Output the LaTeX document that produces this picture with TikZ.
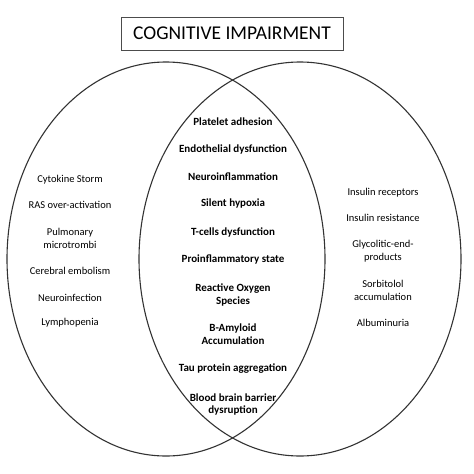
\documentclass[tikz,border=0pt]{standalone}
\usepackage{fontspec}
\setmainfont{Carlito}
\begin{document}
\begin{tikzpicture}[x=1pt,y=-1pt,
  venn/.style={draw=black!80,line width=1.1pt},
  sidetxt/.style={font=\fontsize{10.5}{13}\selectfont,align=center,text=black,inner sep=0pt},
  midtxt/.style={font=\fontsize{11}{13}\selectfont\bfseries,align=center,text=black,inner sep=0pt}]
\useasboundingbox[fill=white] (0,0) rectangle (474,474);
\draw[venn] (166,259) ellipse [x radius=159, y radius=197];
\draw[venn] (300,259) ellipse [x radius=161, y radius=197];
\node[draw=black!70,line width=1pt,minimum width=222pt,minimum height=33pt,inner sep=0pt,
  font=\fontsize{19.5}{22}\selectfont] (title) at (232,33.5) {COGNITIVE IMPAIRMENT};
% left
\node[sidetxt] (l1) at (70,180) {Cytokine Storm};
\node[sidetxt] (l2) at (70,205) {RAS over-activation};
\node[sidetxt] (l3) at (70,238.5) {Pulmonary\\microtrombi};
\node[sidetxt] (l4) at (70,271) {Cerebral embolism};
\node[sidetxt] (l5) at (70,298) {Neuroinfection};
\node[sidetxt] (l6) at (70,323) {Lymphopenia};
% middle
\node[midtxt] (m1) at (233,122) {Platelet adhesion};
\node[midtxt] (m2) at (233,149) {Endothelial dysfunction};
\node[midtxt] (m3) at (233,177) {Neuroinflammation};
\node[midtxt] (m4) at (233,204) {Silent hypoxia};
\node[midtxt] (m5) at (233,232) {T-cells dysfunction};
\node[midtxt] (m6) at (233,260) {Proinflammatory state};
\node[midtxt] (m7) at (233,294.5) {Reactive Oxygen\\Species};
\node[midtxt] (m8) at (233,334.5) {B-Amyloid\\Accumulation};
\node[midtxt] (m9) at (233,369) {Tau protein aggregation};
\node[midtxt] (m10) at (233,404.5) {Blood brain barrier\\dysruption};
% right
\node[sidetxt] (r1) at (383,193) {Insulin receptors};
\node[sidetxt] (r2) at (383,218) {Insulin resistance};
\node[sidetxt] (r3) at (383,251.5) {Glycolitic-end-\\products};
\node[sidetxt] (r4) at (383,290.5) {Sorbitolol\\accumulation};
\node[sidetxt] (r5) at (383,323) {Albuminuria};
\end{tikzpicture}
\end{document}
